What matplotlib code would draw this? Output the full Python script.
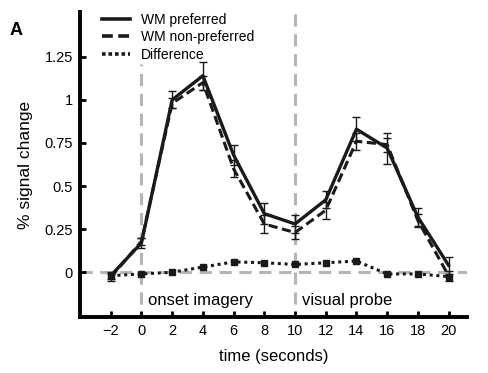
import matplotlib
matplotlib.use("Agg")
import matplotlib.pyplot as plt
from matplotlib.lines import Line2D

plt.rcParams['font.family'] = ['Liberation Sans', 'DejaVu Sans']

# data
time = [-2, 0, 2, 4, 6, 8, 10, 12, 14, 16, 18, 20]
wm_pref = [-0.02, 0.17, 1.0, 1.14, 0.68, 0.34, 0.28, 0.42, 0.83, 0.72, 0.32, 0.04]
wm_pref_err = [0.02, 0.03, 0.05, 0.08, 0.06, 0.06, 0.05, 0.05, 0.07, 0.09, 0.05, 0.05]
wm_nonpref = [-0.03, 0.18, 0.98, 1.10, 0.60, 0.28, 0.23, 0.36, 0.76, 0.74, 0.30, -0.02]
wm_nonpref_err = [0.02, 0.02, 0.03, 0.04, 0.05, 0.05, 0.04, 0.05, 0.05, 0.04, 0.04, 0.03]
difference = [-0.02, -0.01, 0.0, 0.03, 0.06, 0.055, 0.045, 0.055, 0.065, -0.01, -0.01, -0.025]

xticks = [-2, 0, 2, 4, 6, 8, 10, 12, 14, 16, 18, 20]
yticks = [0, 0.25, 0.5, 0.75, 1, 1.25]
ytick_labels = ["0", "0.25", "0.5", "0.75", "1", "1.25"]

fig = plt.figure(figsize=(4.88, 3.73), dpi=100)
ax = fig.add_axes([0.164, 0.150, 0.793, 0.818])

dark = "#1a1a1a"
grey = "#b5b5b5"
dash_g = (0, (4, 2.5))
dash_k = (0, (3, 1.5))
dot_k = (0, (1, 1.2))

ax.axhline(0, color=grey, lw=2.2, ls=dash_g, zorder=1)
ax.plot([0, 0], [-0.3, 1.21], color=grey, lw=2.2, ls=dash_g, zorder=1)
ax.plot([10, 10], [-0.3, 1.55], color=grey, lw=2.2, ls=dash_g, zorder=1)

ax.errorbar(time, wm_nonpref, yerr=wm_nonpref_err, color=dark, lw=2.2,
            ls=dash_k, elinewidth=1, capsize=3, zorder=3)
ax.errorbar(time, wm_pref, yerr=wm_pref_err, color=dark, lw=2.4,
            elinewidth=1, capsize=3, zorder=4)
ax.plot(time, difference, color=dark, lw=2.2, ls=dot_k,
        marker="s", ms=4, zorder=3)

ax.text(0.45, -0.165, "onset imagery", fontsize=12, va="center")
ax.text(10.45, -0.165, "visual probe", fontsize=12, va="center")

ax.set_xlim(-4, 21.2)
ax.set_ylim(-0.26, 1.51)
ax.set_xticks(xticks)
ax.set_xticklabels(["\u22122" if t == -2 else str(t) for t in xticks])
ax.set_yticks(yticks)
ax.set_yticklabels(ytick_labels)
ax.tick_params(direction="in", length=4, width=2, labelsize=10.5, pad=5)

for s in ["top", "right"]:
    ax.spines[s].set_visible(False)
for s in ["left", "bottom"]:
    ax.spines[s].set_linewidth(2.8)

ax.set_xlabel("time (seconds)", fontsize=12, labelpad=8)
ax.set_ylabel("% signal change", fontsize=12.5, labelpad=8)

handles = [Line2D([], [], color=dark, lw=2.6),
           Line2D([], [], color=dark, lw=2.6, ls=(0, (3, 1.5))),
           Line2D([], [], color=dark, lw=2.6, ls=(0, (1, 0.8)))]
labels = ["WM preferred", "WM non-preferred", "Difference"]
ax.legend(handles, labels, loc="upper left", bbox_to_anchor=(0.035, 1.025),
          frameon=False, fontsize=10, handlelength=2.0, handletextpad=0.8,
          labelspacing=0.25, borderaxespad=0.2)

fig.text(0.02, 0.905, "A", fontsize=13, fontweight="bold")

fig.savefig("out.png", dpi=100)
